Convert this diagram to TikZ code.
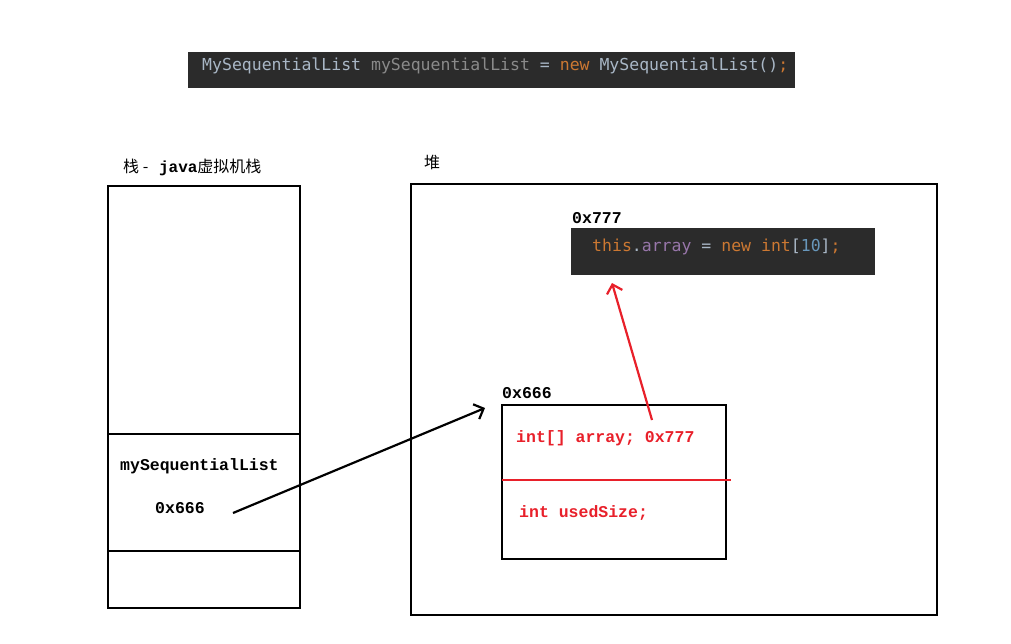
\documentclass[tikz,border=0pt]{standalone}
\usepackage{fontspec}
\setmonofont{DejaVu Sans Mono}
\newfontfamily\lbl{Liberation Mono}
\newfontfamily\cjk{Noto Sans CJK SC}
\usetikzlibrary{arrows.meta}
\definecolor{ide}{HTML}{2B2B2B}
\definecolor{idefg}{HTML}{A9B7C6}
\definecolor{idevar}{HTML}{8A8A8A}
\definecolor{ideor}{HTML}{CC7832}
\definecolor{idepu}{HTML}{9876AA}
\definecolor{idenum}{HTML}{6897BB}
\definecolor{rd}{HTML}{E8202A}
\begin{document}
\begin{tikzpicture}[x=1pt,y=-1pt,
  box/.style={draw=black,line width=2.6pt},
  lab/.style={anchor=west,inner sep=0pt,font=\lbl\bfseries\fontsize{16.5}{18}\selectfont},
  code/.style={anchor=west,inner sep=0pt,font=\ttfamily\fontsize{16.5}{18}\selectfont}]
\useasboundingbox (0,0) rectangle (1011,643);
\fill[ide] (188,52) rectangle (795,88);
\node[code] (c1) at (202,66) {\textcolor{idefg}{MySequentialList} \textcolor{idevar}{mySequentialList} \textcolor{idefg}{=} \textcolor{ideor}{new} \textcolor{idefg}{MySequentialList()}\textcolor{ideor}{;}};
\node[anchor=west,inner sep=0pt,font=\cjk\fontsize{16}{18}\selectfont] (sl) at (123,167) {栈\ -\ \ \ \lbl\bfseries java\cjk\mdseries 虚拟机栈};
\draw[box] (108,186) rectangle (300,608);
\draw[box] (108,434) -- (300,434);
\draw[box] (108,551) -- (300,551);
\node[lab] (v) at (120,466) {mySequentialList};
\node[lab] (a1) at (155,508) {0x666};
\coordinate (s) at (233,513);
\node[anchor=west,inner sep=0pt,font=\cjk\fontsize{16}{18}\selectfont] (hl) at (424,162) {堆};
\draw[box] (411,184) rectangle (937,615);
\node[lab] (a7) at (572,218) {0x777};
\fill[ide] (571,228) rectangle (875,275);
\node[code] (c2) at (592,247) {\textcolor{ideor}{this}\textcolor{idefg}{.}\textcolor{idepu}{array} \textcolor{idefg}{=} \textcolor{ideor}{new int}\textcolor{idefg}{[}\textcolor{idenum}{10}\textcolor{idefg}{]}\textcolor{ideor}{;}};
\node[lab] (a6) at (502,393) {0x666};
\draw[box] (502,405) rectangle (726,559);
\draw[rd,line width=2.2pt] (502,480) -- (731,480);
\node[lab,text=rd] (f1) at (516,438) {int[] array; 0x777};
\node[lab,text=rd] (f2) at (519,513) {int usedSize;};
\coordinate (t) at (485,408);
\draw[line width=2.2pt,-{Straight Barb[length=8pt,width=16pt]}] (s) -- (t);
\coordinate (rs) at (652,420);
\coordinate (rt) at (612,283);
\draw[rd,line width=2.2pt,-{Straight Barb[length=8pt,width=16pt]}] (rs) -- (rt);
\end{tikzpicture}
\end{document}
